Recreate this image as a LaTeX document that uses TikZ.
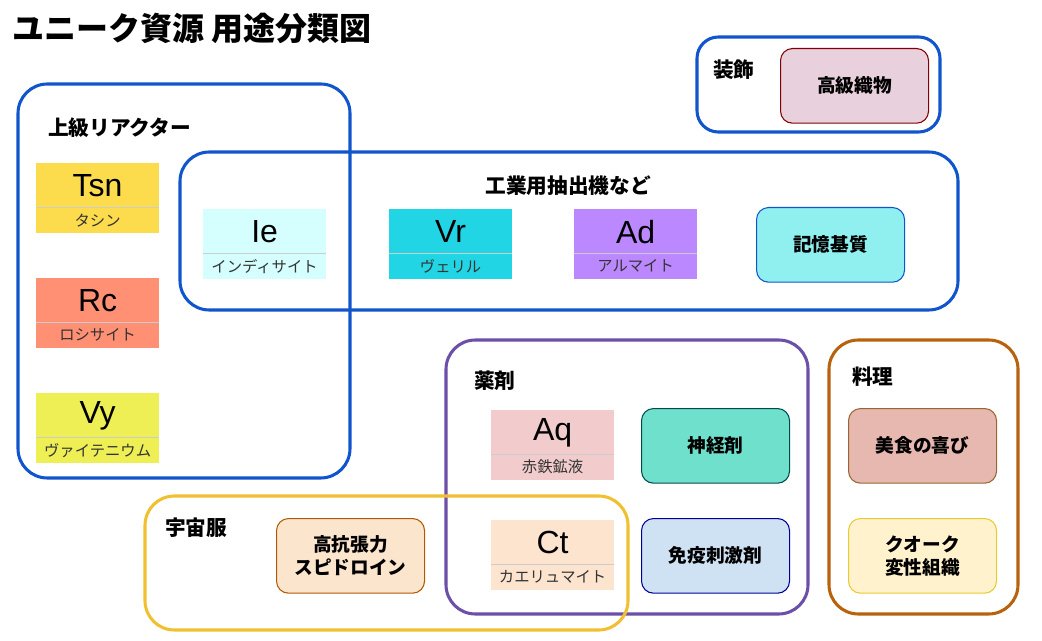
\documentclass[tikz,border=0pt]{standalone}
\usepackage{fontspec}
\setmainfont{Noto Sans CJK JP}
\newfontfamily\latin{Liberation Sans}
\begin{document}
\begin{tikzpicture}[x=0.75pt,y=-0.75pt,
 grp/.style={draw,line width=2.3pt,rounded corners=22pt},
 glab/.style={anchor=west,font=\fontsize{15.5}{18}\selectfont\bfseries,inner sep=0},
 box/.style={draw,line width=0.8pt,rounded corners=9pt,minimum width=111pt,minimum height=56pt,align=center,font=\fontsize{14}{17}\selectfont\bfseries,anchor=north west},
 tile/.style={minimum width=92pt,minimum height=52pt,anchor=north west,inner sep=0},
 sym/.style={font=\latin\fontsize{24}{26}\selectfont},
 sub/.style={font=\fontsize{11.5}{13}\selectfont,text=black!80}]
\useasboundingbox (0,0) rectangle (1042,641);
\node[anchor=west,font=\fontsize{24}{28}\selectfont\bfseries,inner sep=0] (title) at (12,28) {ユニーク資源 用途分類図};
\definecolor{gblue}{HTML}{1155CC}
\definecolor{gpur}{HTML}{6B4FA8}
\definecolor{gbrn}{HTML}{B8620E}
\definecolor{gyel}{HTML}{F0C030}
\definecolor{t1}{HTML}{FCDC4D}
\definecolor{t2}{HTML}{FF9074}
\definecolor{t3}{HTML}{EEEE55}
\definecolor{t4}{HTML}{D5FFFF}
\definecolor{t5}{HTML}{22D5E5}
\definecolor{t6}{HTML}{BB88FF}
\definecolor{t7}{HTML}{F2CCCC}
\definecolor{t8}{HTML}{FCE4CF}
% groups
\draw[grp,gblue] (18,84) rectangle (350,478);
\node[glab] (l1) at (48,128) {上級リアクター};
\draw[grp,gblue] (180,152) rectangle (958,310);
\node[glab,anchor=center] (l2) at (568,186) {工業用抽出機など};
\draw[grp,gblue,rounded corners=16pt] (697,37) rectangle (940,132);
\node[glab] (l3) at (713,70) {装飾};
\draw[grp,gpur] (446,340) rectangle (808,614);
\node[glab] (l4) at (474,381) {薬剤};
\draw[grp,gbrn] (829,340) rectangle (1018,614);
\node[glab] (l5) at (852,377) {料理};
\draw[grp,gyel] (145,496) rectangle (628,630);
\node[glab] (l6) at (165,528) {宇宙服};
% tiles
\newcommand\tilemk[6]{%
 \node[tile,fill=#4] (#1) at (#2,#3) {};
 \draw[black!20,line width=0.4pt] ([yshift=-33pt]#1.north west) -- ([yshift=-33pt]#1.north east);
 \node[sym] (#1s) at ([yshift=-17pt]#1.north) {#5};
 \node[sub] (#1t) at ([yshift=9.5pt]#1.south) {#6};}
\tilemk{tsn}{36}{163}{t1}{Tsn}{タシン}
\tilemk{rc}{36}{278}{t2}{Rc}{ロシサイト}
\tilemk{vy}{36}{393}{t3}{Vy}{ヴァイテニウム}
\tilemk{ie}{203}{209}{t4}{Ie}{インディサイト}
\tilemk{vr}{389}{209}{t5}{Vr}{ヴェリル}
\tilemk{ad}{574}{209}{t6}{Ad}{アルマイト}
\tilemk{aq}{491}{410}{t7}{Aq}{赤鉄鉱液}
\tilemk{ct}{491}{520}{t8}{Ct}{カエリュマイト}
\definecolor{c1}{HTML}{90F0F0}
\definecolor{c2}{HTML}{E8D0DD}
\definecolor{c3}{HTML}{6EE0CC}
\definecolor{c4}{HTML}{CFE2F3}
\definecolor{c5}{HTML}{E6B8AF}
\definecolor{c6}{HTML}{FFF2CC}
\definecolor{c7}{HTML}{FCE5CD}
% boxes
\node[box,fill=c1,draw=gblue] (kioku) at (756,207) {記憶基質};
\node[box,fill=c2,draw=red!50!black] (orimono) at (780,48) {高級織物};
\node[box,fill=c3,draw=teal!60!black] (shinkei) at (641,408) {神経剤};
\node[box,fill=c4,draw=blue!60!black] (meneki) at (641,518) {免疫刺激剤};
\node[box,fill=c5,draw=brown!80!black] (bishoku) at (848,408) {美食の喜び};
\node[box,fill=c6,draw=yellow!60!brown] (quark) at (848,518) {クオーク\\変性組織};
\node[box,fill=c7,draw=orange!70!black] (spid) at (276,518) {高抗張力\\スピドロイン};
\end{tikzpicture}
\end{document}
